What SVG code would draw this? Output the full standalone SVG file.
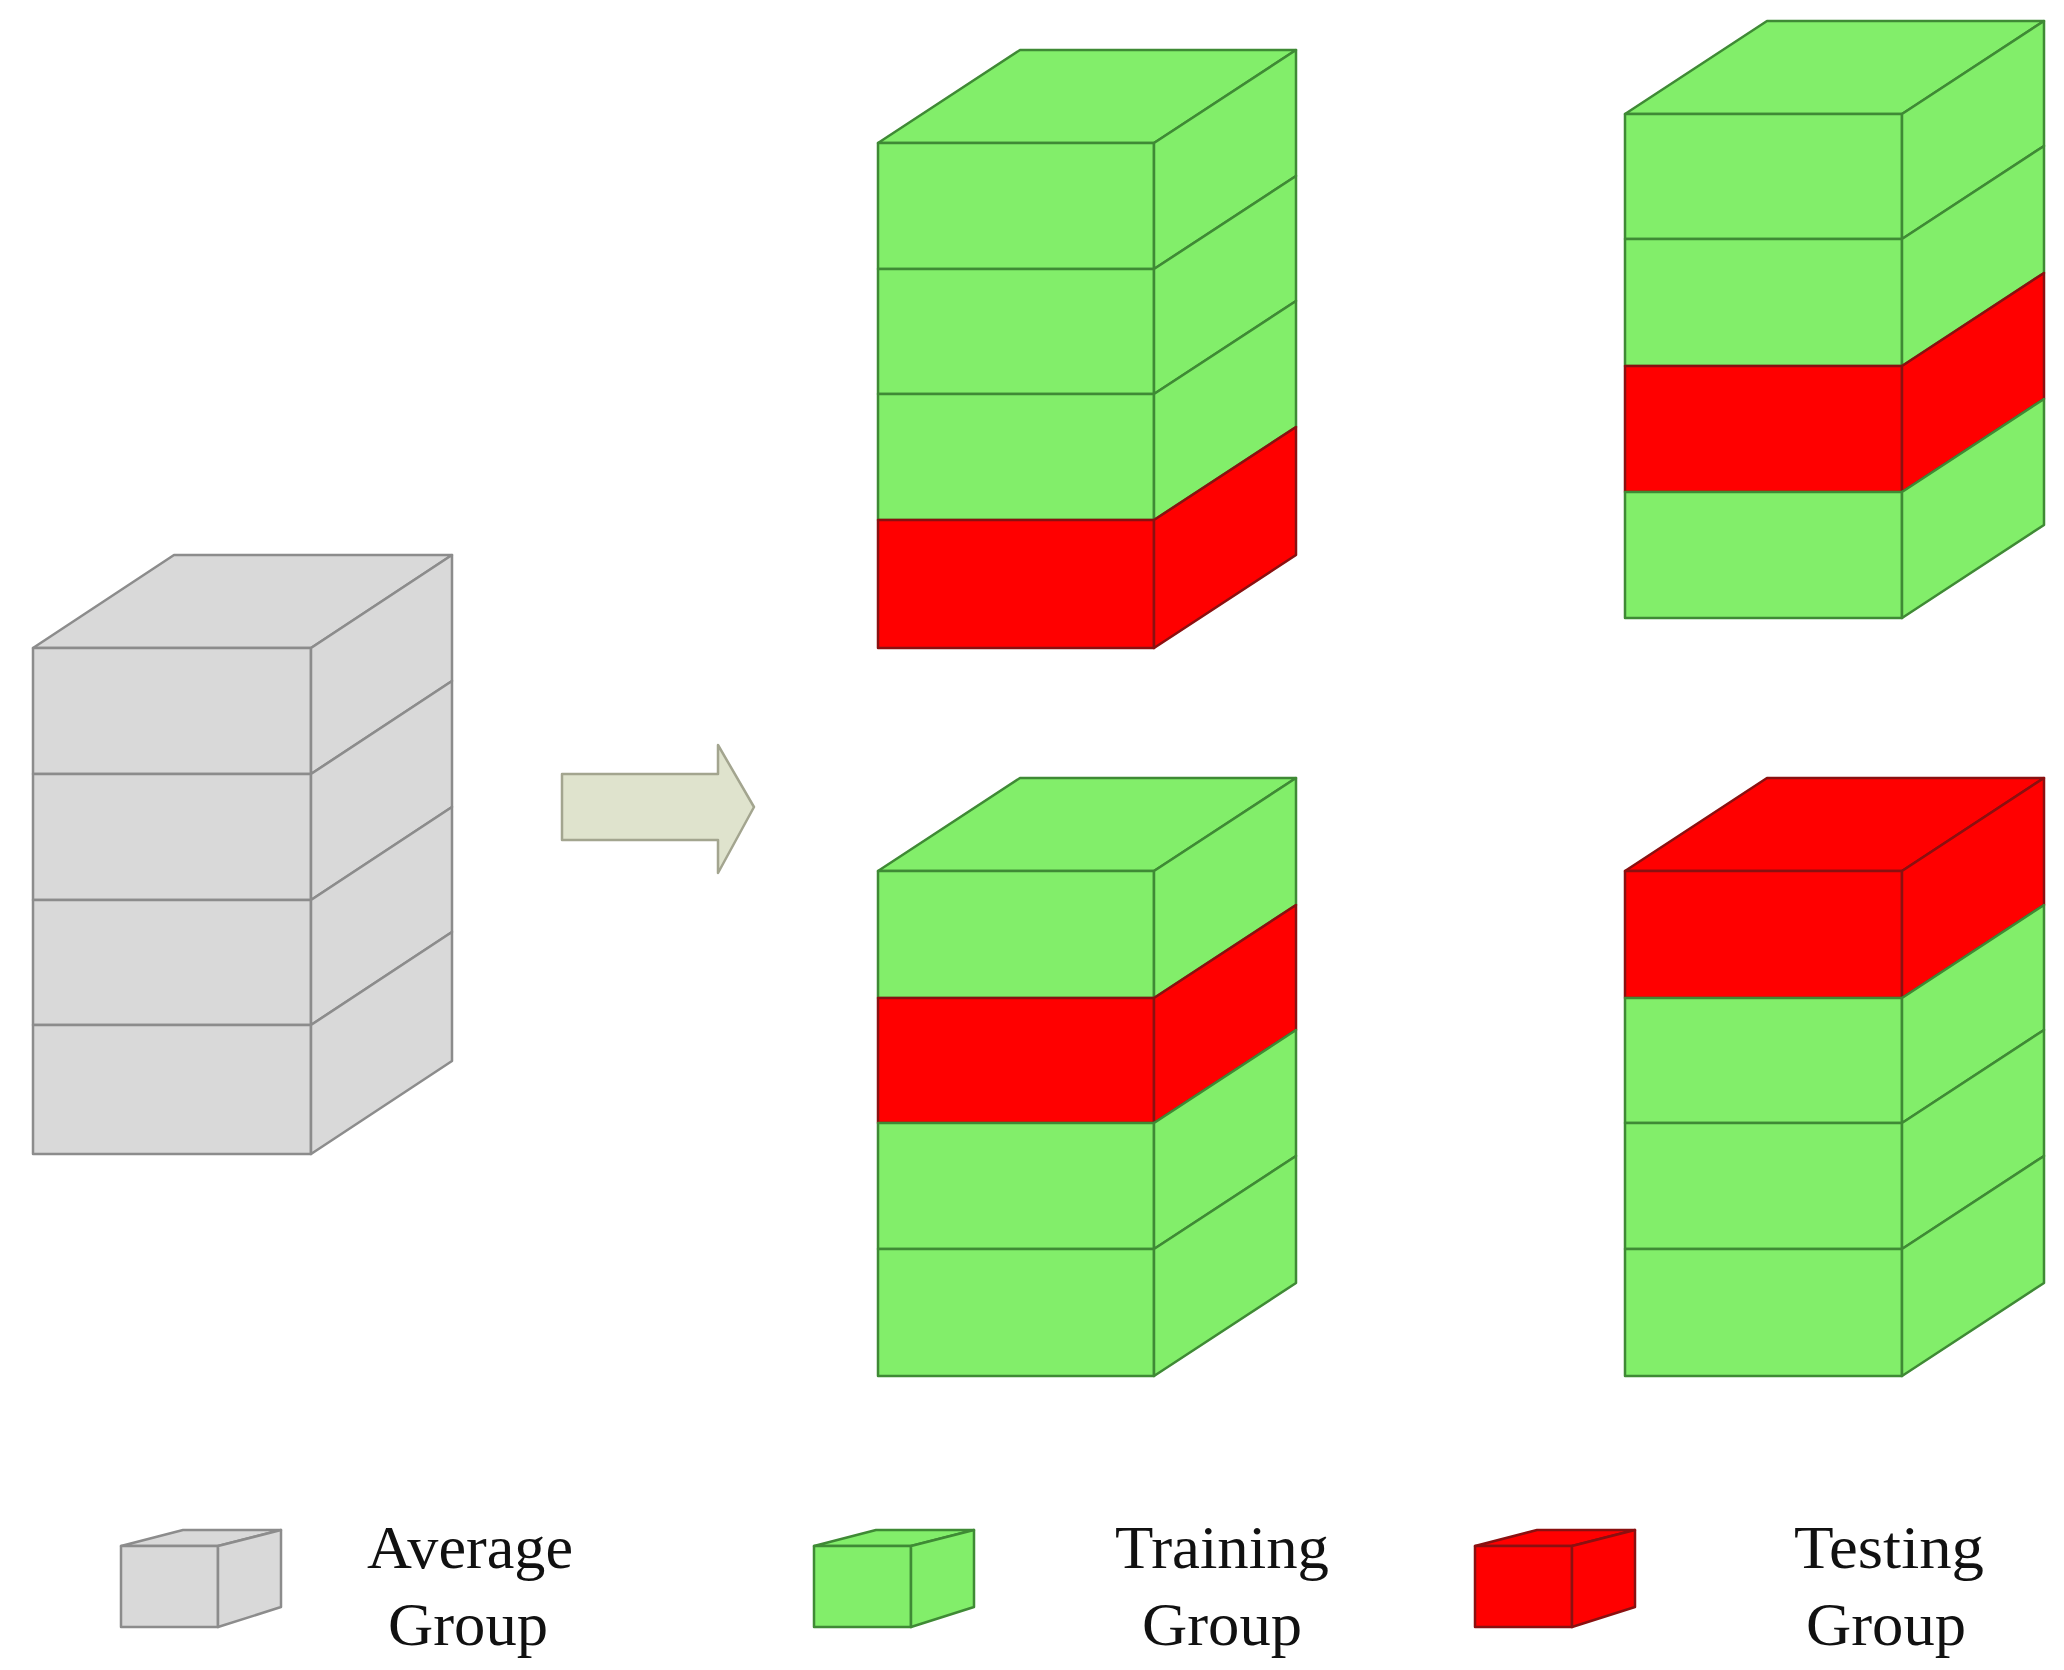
<svg xmlns="http://www.w3.org/2000/svg" width="2064" height="1670" viewBox="0 0 2064 1670">
<style>
.g{fill:#d9d9d9;stroke:#8c8c8c;stroke-width:2.5;stroke-linejoin:round}
.t{fill:#82ee6a;stroke:#3f8a35;stroke-width:2.5;stroke-linejoin:round}
.r{fill:#ff0000;stroke:#8a1010;stroke-width:2.5;stroke-linejoin:round}
.lbl{font-family:"Liberation Serif",serif;font-size:62px;fill:#111;text-anchor:middle}
</style>
<rect width="2064" height="1670" fill="#fff"/>
<g id="average-stack">
<polygon class="g" points="33,648 174,555 452,555 311,648"/>
<polygon class="g" points="33,648 311,648 311,774 33,774"/><polygon class="g" points="311,648 452,555 452,681 311,774"/>
<polygon class="g" points="33,774 311,774 311,900 33,900"/><polygon class="g" points="311,774 452,681 452,807 311,900"/>
<polygon class="g" points="33,900 311,900 311,1025 33,1025"/><polygon class="g" points="311,900 452,807 452,932 311,1025"/>
<polygon class="g" points="33,1025 311,1025 311,1154 33,1154"/><polygon class="g" points="311,1025 452,932 452,1061 311,1154"/>
</g>
<g id="connectors">
<polygon points="562,774 718,774 718,745 754,807 718,873 718,840 562,840" fill="#dfe3cd" stroke="#a3a58f" stroke-width="2.5" stroke-linejoin="round"/>
</g>
<g id="fold1">
<polygon class="t" points="878,143 1020,50 1296,50 1154,143"/>
<polygon class="t" points="878,143 1154,143 1154,269 878,269"/><polygon class="t" points="1154,143 1296,50 1296,176 1154,269"/>
<polygon class="t" points="878,269 1154,269 1154,394 878,394"/><polygon class="t" points="1154,269 1296,176 1296,301 1154,394"/>
<polygon class="t" points="878,394 1154,394 1154,520 878,520"/><polygon class="t" points="1154,394 1296,301 1296,427 1154,520"/>
<polygon class="r" points="878,520 1154,520 1154,648 878,648"/><polygon class="r" points="1154,520 1296,427 1296,555 1154,648"/>
</g>
<g id="fold2">
<polygon class="t" points="1625,114 1767,21 2044,21 1902,114"/>
<polygon class="t" points="1625,114 1902,114 1902,239 1625,239"/><polygon class="t" points="1902,114 2044,21 2044,146 1902,239"/>
<polygon class="t" points="1625,239 1902,239 1902,366 1625,366"/><polygon class="t" points="1902,239 2044,146 2044,273 1902,366"/>
<polygon class="r" points="1625,366 1902,366 1902,492 1625,492"/><polygon class="r" points="1902,366 2044,273 2044,399 1902,492"/>
<polygon class="t" points="1625,492 1902,492 1902,618 1625,618"/><polygon class="t" points="1902,492 2044,399 2044,525 1902,618"/>
</g>
<g id="fold3">
<polygon class="t" points="878,871 1020,778 1296,778 1154,871"/>
<polygon class="t" points="878,871 1154,871 1154,998 878,998"/><polygon class="t" points="1154,871 1296,778 1296,905 1154,998"/>
<polygon class="r" points="878,998 1154,998 1154,1123 878,1123"/><polygon class="r" points="1154,998 1296,905 1296,1030 1154,1123"/>
<polygon class="t" points="878,1123 1154,1123 1154,1249 878,1249"/><polygon class="t" points="1154,1123 1296,1030 1296,1156 1154,1249"/>
<polygon class="t" points="878,1249 1154,1249 1154,1376 878,1376"/><polygon class="t" points="1154,1249 1296,1156 1296,1283 1154,1376"/>
</g>
<g id="fold4">
<polygon class="r" points="1625,871 1767,778 2044,778 1902,871"/>
<polygon class="r" points="1625,871 1902,871 1902,998 1625,998"/><polygon class="r" points="1902,871 2044,778 2044,905 1902,998"/>
<polygon class="t" points="1625,998 1902,998 1902,1123 1625,1123"/><polygon class="t" points="1902,998 2044,905 2044,1030 1902,1123"/>
<polygon class="t" points="1625,1123 1902,1123 1902,1249 1625,1249"/><polygon class="t" points="1902,1123 2044,1030 2044,1156 1902,1249"/>
<polygon class="t" points="1625,1249 1902,1249 1902,1376 1625,1376"/><polygon class="t" points="1902,1249 2044,1156 2044,1283 1902,1376"/>
</g>
<g id="legend-average">
<polygon class="g" points="121,1546 183,1530 281,1530 218,1546"/>
<polygon class="g" points="121,1546 218,1546 218,1627 121,1627"/><polygon class="g" points="218,1546 281,1530 281,1607 218,1627"/>
<text class="lbl" x="470" y="1568" textLength="206" lengthAdjust="spacingAndGlyphs">Average</text>
<text class="lbl" x="468" y="1645" textLength="160" lengthAdjust="spacingAndGlyphs">Group</text>
</g>
<g id="legend-training">
<polygon class="t" points="814,1546 876,1530 974,1530 911,1546"/>
<polygon class="t" points="814,1546 911,1546 911,1627 814,1627"/><polygon class="t" points="911,1546 974,1530 974,1607 911,1627"/>
<text class="lbl" x="1222" y="1568" textLength="214" lengthAdjust="spacingAndGlyphs">Training</text>
<text class="lbl" x="1222" y="1645" textLength="160" lengthAdjust="spacingAndGlyphs">Group</text>
</g>
<g id="legend-testing">
<polygon class="r" points="1475,1546 1537,1530 1635,1530 1572,1546"/>
<polygon class="r" points="1475,1546 1572,1546 1572,1627 1475,1627"/><polygon class="r" points="1572,1546 1635,1530 1635,1607 1572,1627"/>
<text class="lbl" x="1889" y="1568" textLength="190" lengthAdjust="spacingAndGlyphs">Testing</text>
<text class="lbl" x="1886" y="1645" textLength="160" lengthAdjust="spacingAndGlyphs">Group</text>
</g>
</svg>
